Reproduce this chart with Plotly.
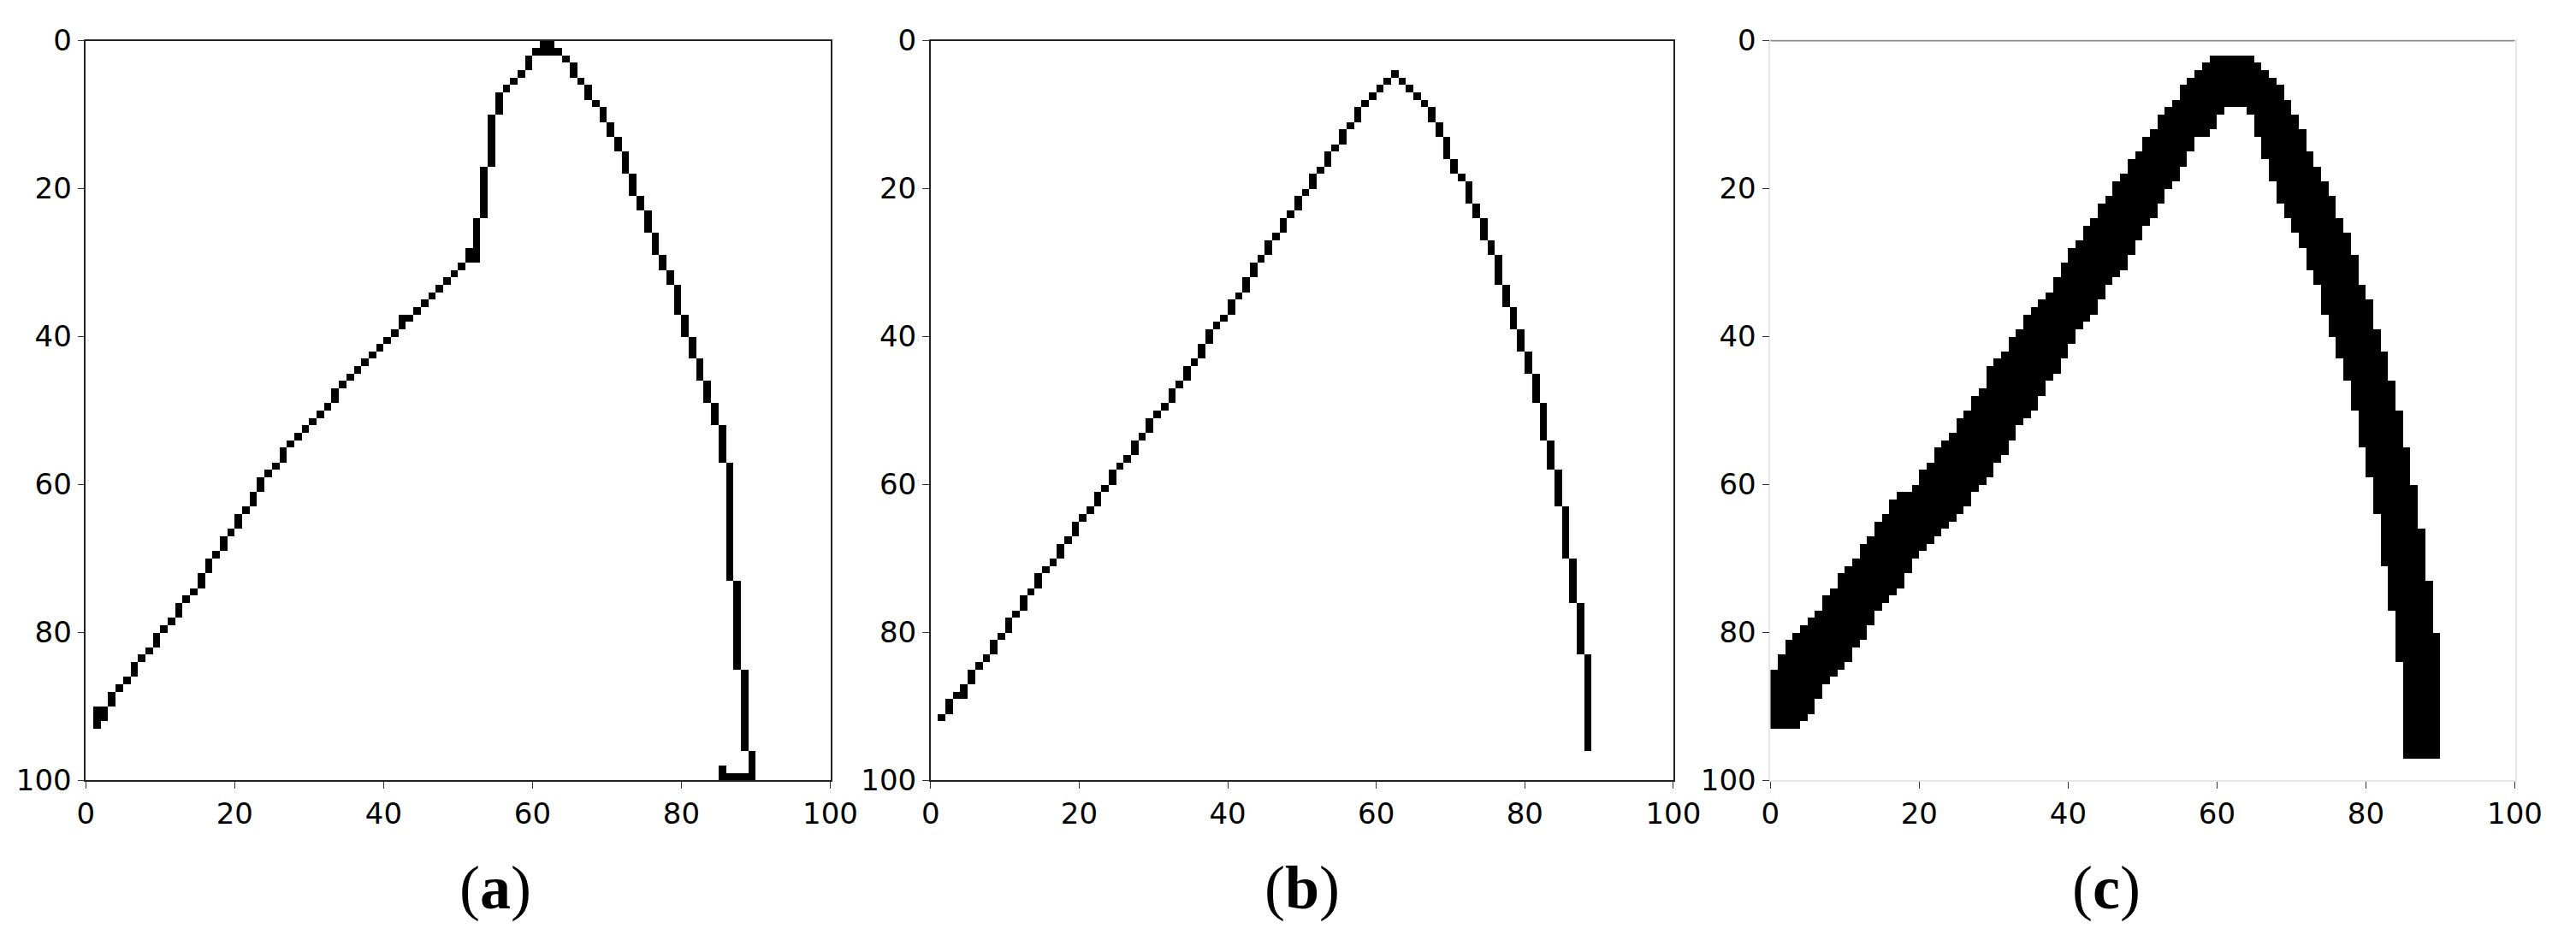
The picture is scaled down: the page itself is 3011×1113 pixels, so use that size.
import numpy as np
import plotly.graph_objects as go

# Panel (a): column, first row, last row (inclusive) of black pixel runs
a_col = [1,2,3,4,5,6,7,8,9,10,11,12,13,14,15,16,17,18,19,20,21,22,23,24,25,26,27,28,29,30,
         31,32,33,34,35,36,37,38,39,40,41,42,43,44,45,46,47,48,49,50,51,52,53,54,55,56,57,58,59,60,61,62,
         63,64,65,66,67,68,69,70,71,72,73,74,75,76,77,78,79,80,81,82,83,84,85,86,87,88,89,85,86,87,88]
a_top = [90,90,88,87,86,84,83,82,80,79,78,76,75,74,72,70,69,67,66,64,63,61,59,58,57,55,54,53,52,51,
         50,49,47,46,45,44,43,42,41,40,39,37,37,36,35,34,33,32,31,30,28,24,17,10,7,6,5,4,2,1,0,0,
         1,2,3,5,6,8,9,11,13,15,18,21,23,26,29,31,33,37,40,43,46,49,52,57,73,85,96,98,99,99,99]
a_bot = [92,91,89,87,86,85,83,82,81,79,78,77,75,74,73,71,69,68,66,65,63,62,60,58,57,56,54,53,52,51,
         50,49,48,46,45,44,43,42,41,40,39,38,37,36,35,34,33,32,31,30,29,29,23,16,9,6,5,4,3,1,1,1,
         1,2,4,5,7,8,10,12,14,17,20,22,25,28,30,32,36,39,42,45,48,51,56,72,84,95,99,99,99,99,99]

# Panel (b)
b_col = list(range(1, 89))
b_top = [91,89,88,87,85,84,83,81,80,78,77,75,74,72,71,70,68,67,65,64,63,61,60,58,57,56,54,53,51,50,
         49,47,46,44,43,41,39,38,37,35,34,32,30,29,27,26,24,23,21,20,18,17,15,14,12,11,9,8,7,6,5,4,
         5,6,7,8,9,11,13,16,18,19,22,24,27,29,33,36,39,42,45,49,54,58,63,70,76,83]
b_bot = [91,90,88,88,86,84,83,82,80,79,77,76,74,73,71,70,69,67,66,64,63,62,60,59,57,56,55,53,52,50,
         49,48,46,45,43,42,40,38,37,36,34,33,31,29,28,26,25,23,22,20,19,17,16,14,13,11,10,8,7,6,5,4,
         5,6,7,8,10,12,15,17,18,21,23,26,28,32,35,38,41,44,48,53,57,62,69,75,82,95]

# Panel (c): per column, top edge (inclusive) and bottom edge (exclusive)
c_col = list(range(0, 90))
c_top = [85,83,81,80,79,78,77,75,74,72,71,70,68,67,65,64,62,61,61,60,58,57,55,54,53,51,50,48,47,44,
         43,42,40,39,37,36,35,34,32,30,28,27,25,24,22,21,19,18,16,15,13,12,10,9,8,6,5,4,3,2,
         2,2,2,2,2,3,4,5,6,8,10,12,15,17,19,21,24,26,29,33,35,39,42,46,50,55,60,66,73,80]
c_bot = [93,93,93,93,92,91,89,87,86,85,84,82,81,79,77,76,75,74,72,70,69,68,67,66,65,64,63,61,60,59,
         57,56,54,52,51,50,48,46,45,43,41,39,38,37,35,33,32,31,29,27,25,24,22,20,19,17,15,13,13,12,
         10,9,9,9,10,13,16,19,22,24,26,28,31,33,37,40,43,46,50,55,59,64,71,77,84,97,97,97,97,97]

tick_vals = [0, 20, 40, 60, 80, 100]
panel_labels = ["(<b>a</b>)", "(<b>b</b>)", "(<b>c</b>)"]

def build(cols, tops, bots, exclusive=False):
    z = np.zeros((100, 100))
    for c, t, b in zip(cols, tops, bots):
        end = b if exclusive else b + 1
        z[t:end, c] = 1
    return z

zs = [build(a_col, a_top, a_bot), build(b_col, b_top, b_bot), build(c_col, c_top, c_bot, True)]
xdoms = [[0.0274, 0.3206], [0.3601, 0.6526], [0.6908, 0.9840]]
ydom = [0.1761, 0.9818]

fig = go.Figure()
for i, z in enumerate(zs):
    sfx = "" if i == 0 else str(i + 1)
    fig.add_trace(go.Heatmap(z=z, x0=0.5, dx=1, y0=0.5, dy=1,
                             colorscale=[[0, "white"], [1, "black"]], zmin=0, zmax=1,
                             showscale=False, xaxis="x" + sfx, yaxis="y" + sfx))
    linecol = "#222" if i < 2 else "#e6e6e6"
    ax = dict(range=[0, 100], tickvals=tick_vals, ticks="outside", ticklen=8,
              tickcolor="#333", showgrid=False, zeroline=False, showline=True,
              linecolor=linecol, linewidth=1.5, mirror=True,
              tickfont=dict(family="DejaVu Sans", size=34, color="black"))
    fig.layout["xaxis" + sfx] = dict(ax, domain=xdoms[i], anchor="y" + sfx)
    fig.layout["yaxis" + sfx] = dict(ax, domain=ydom, anchor="x" + sfx, range=[100, 0])
    fig.add_annotation(text=panel_labels[i], xref="paper", yref="paper",
                       x=sum(xdoms[i]) / 2, y=0.0195, showarrow=False,
                       font=dict(family="Liberation Serif", size=72, color="black"))
    if i == 2:
        fig.add_shape(type="line", xref="x3", yref="y3", x0=0, x1=100, y0=0, y1=0,
                      line=dict(color="#222", width=1.5))

fig.update_layout(width=3011, height=1113, autosize=False, plot_bgcolor="white",
                  paper_bgcolor="white", margin=dict(l=0, r=0, t=0, b=0))
fig.write_html("out.html")
